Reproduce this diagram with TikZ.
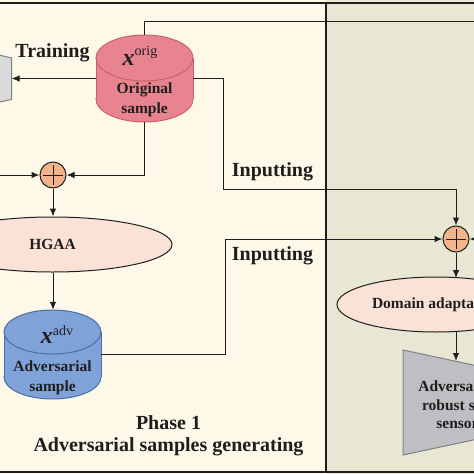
\documentclass[tikz,border=0pt]{standalone}
\usepackage{fontspec}
\setmainfont{Liberation Serif}
\usetikzlibrary{arrows.meta,shapes.geometric}
\definecolor{leftbg}{HTML}{FEF8E8}
\definecolor{rightbg}{HTML}{E8E7D3}
\definecolor{pinkc}{HTML}{E8848F}
\definecolor{pinkd}{HTML}{C9606E}
\definecolor{bluec}{HTML}{7FA2D8}
\definecolor{blued}{HTML}{4C6EA6}
\definecolor{peach}{HTML}{FBE2D6}
\definecolor{oplusc}{HTML}{F3B48B}
\definecolor{greyc}{HTML}{BFBFC3}
\definecolor{greyl}{HTML}{DADADD}
\definecolor{greyd}{HTML}{7F7F85}
\definecolor{ink}{HTML}{1E1E1E}
\newcommand\mycyl[7]{% cx, top y, bottom y, rx, ry, fill, draw
  \filldraw[fill=#6, draw=#7, line width=1pt] (#1,#3) ellipse[x radius=#4, y radius=#5];
  \fill[#6] (#1-#4,#2) rectangle (#1+#4,#3);
  \draw[#7, line width=1pt] (#1-#4,#2) -- (#1-#4,#3) (#1+#4,#2) -- (#1+#4,#3);
  \filldraw[fill=#6, draw=#7, line width=1pt] (#1,#2) ellipse[x radius=#4, y radius=#5];
}
\begin{document}
\begin{tikzpicture}[x=1pt,y=-1pt,
  conn/.style={draw=ink, line width=1pt},
  arr/.style={conn, -{Latex[length=8pt,width=6.5pt]}},
  lbl/.style={font=\fontsize{20}{22}\selectfont\bfseries, text=ink, inner sep=0},
  inlbl/.style={font=\fontsize{15.5}{19.5}\selectfont\bfseries, text=ink, align=center, inner sep=0},
  symlbl/.style={font=\fontsize{24}{24}\selectfont\bfseries\itshape, text=ink, inner sep=0},
  ovalbox/.style={ellipse, draw=ink, line width=1pt, fill=peach, inner sep=0, minimum height=55pt,
    font=\fontsize{15.5}{19}\selectfont\bfseries, text=ink},
  sumnode/.style={circle, draw=ink, line width=1pt, fill=oplusc, minimum size=26pt, inner sep=0,
    path picture={\draw[ink, line width=1pt]
      ([xshift=-10pt]path picture bounding box.center) -- ([xshift=10pt]path picture bounding box.center)
      ([yshift=-10pt]path picture bounding box.center) -- ([yshift=10pt]path picture bounding box.center);}},
  holder/.style={inner sep=0, minimum width=97pt, minimum height=#1},
  panelline/.style={draw=ink, line width=2pt}
]
\useasboundingbox (0,0) rectangle (474,474);
\clip (0,0) rectangle (474,474);
% backgrounds
\fill[leftbg] (0,0) rectangle (325.5,474);
\fill[rightbg] (325.5,0) rectangle (474,474);

% cylinders
\mycyl{144.5}{58}{99}{48.5}{23}{pinkc}{pinkd}
\node[holder=87pt] (orig) at (144.5,78.5) {};
\node[symlbl, anchor=base] (origsym) at (140,65) {x\raisebox{10pt}{\fontsize{14}{14}\selectfont\normalfont orig}};
\node[inlbl] (origlbl) at (144.5,100) {Original\\sample};

\mycyl{52.5}{332}{377}{48.5}{22}{bluec}{blued}
\node[holder=89pt] (adv) at (52.5,354.5) {};
\node[symlbl, anchor=base] (advsym) at (57,343) {x\raisebox{8pt}{\fontsize{14}{14}\selectfont\normalfont adv}};
\node[inlbl] (advlbl) at (52.5,378) {Adversarial\\sample};

% trapezoids
\filldraw[fill=greyl, draw=greyd, line width=1pt] (-5,54) -- (11.5,58) -- (11.5,99.5) -- (-5,103);
\coordinate (decin) at (11.5,78.5);
\filldraw[fill=greyc, draw=greyd, line width=1pt] (485,367.5) -- (403,350) -- (403,455) -- (485,437.5);
\coordinate (enctop) at (456,361);
\node[inlbl, align=center, font=\fontsize{15.5}{18.5}\selectfont\bfseries] (enclbl) at (457.5,405) {Adversarial\\robust soft\\sensor};

% ellipses
\node[ovalbox, minimum width=239pt] (hgaa) at (52.5,244.5) {HGAA};
\node[ovalbox, minimum width=198pt] (dom) at (436,304.5) {Domain adaptation};

% sum nodes
\node[sumnode] (opl) at (53,175) {};
\node[sumnode] (opr) at (456,239) {};

% panel lines
\draw[panelline] (-5,2.5) -- (480,2.5);
\draw[panelline] (-5,471.5) -- (480,471.5);
\draw[panelline] (325.5,2.5) -- (325.5,471.5);

% connectors
\coordinate (topout) at (480,21);
\coordinate (lin) at (-5,175);
\coordinate (rin) at (480,239);
\coordinate (c1) at (223,189);
\coordinate (c2) at (225,354.5);
\draw[conn] (orig.north) |- (topout);
\draw[arr] (orig.west) -- (decin);
\draw[arr] (orig.east) -| (c1) -| (opr.north);
\draw[arr] (orig.south) |- (opl.east);
\draw[arr] (lin) -- (opl.west);
\draw[arr] (opl.south) -- (hgaa.north -| opl.south);
\draw[arr] (hgaa.south -| opl.south) -- (adv.north -| opl.south);
\draw[arr] (adv.east) -- (c2) |- (opr.west);
\draw[arr] (rin) -- (opr.east);
\draw[arr] (opr.south) -- ++(0,25.5);
\draw[arr] (opr.south |- dom.south) ++(0,-0.6) -- (enctop);

% labels
\node[lbl] (train) at (52.5,53) {Training};
\node[lbl] (inp1) at (272.5,172) {Inputting};
\node[lbl] (inp2) at (272.5,256) {Inputting};
\node[lbl] (ph1) at (168.5,423) {Phase 1};
\node[lbl] (ph1b) at (168.5,447) {Adversarial samples generating};
\end{tikzpicture}
\end{document}
